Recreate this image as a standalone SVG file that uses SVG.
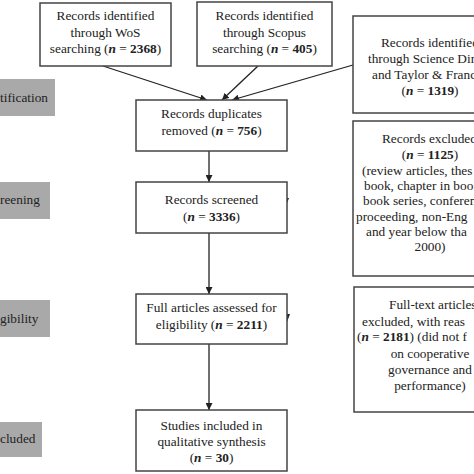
<svg xmlns="http://www.w3.org/2000/svg" width="474" height="474" viewBox="0 0 474 474">
<style>
.box{fill:#fff;stroke:#444;stroke-width:1.5}
.lab{fill:#a9a9a9}
text{font-family:"Liberation Serif","Times New Roman",serif;font-size:13.3px;fill:#222}
.m{text-anchor:middle}
.n{font-weight:bold;font-style:italic}
.b{font-weight:bold}
.con{stroke:#222;stroke-width:1.3;fill:none}
</style>
<defs>
<marker id="ah" viewBox="0 0 10 10" refX="10" refY="5" markerWidth="7" markerHeight="7" markerUnits="userSpaceOnUse" orient="auto">
<path d="M0,0 L10,5 L0,10 Z" fill="#222"/>
</marker>
</defs>
<g id="stage-labels">
<g id="lab-identification"><rect class="lab" x="0" y="79" width="55" height="37"/><text x="0" y="102">tification</text></g>
<g id="lab-screening"><rect class="lab" x="0" y="182" width="50" height="37"/><text x="0" y="204">reening</text></g>
<g id="lab-eligibility"><rect class="lab" x="0" y="300" width="50" height="37"/><text x="0" y="323">gibility</text></g>
<g id="lab-included"><rect class="lab" x="0" y="422" width="42" height="35"/><text x="0" y="443">cluded</text></g>
</g>
<g id="connectors">
<line class="con" x1="103" y1="66" x2="207" y2="100" marker-end="url(#ah)"/>
<line class="con" x1="258" y1="66" x2="222" y2="100" marker-end="url(#ah)"/>
<line class="con" x1="353" y1="65" x2="232" y2="100" marker-end="url(#ah)"/>
<line class="con" x1="209" y1="151" x2="209" y2="182" marker-end="url(#ah)"/>
<line class="con" x1="209" y1="233" x2="209" y2="294" marker-end="url(#ah)"/>
<line class="con" x1="209" y1="344" x2="209" y2="410" marker-end="url(#ah)"/>
<polygon points="283,198 289,198 286,206" fill="#222"/>
<polygon points="284,314 290,314 287,322" fill="#222"/>
</g>
<g id="node-wos"><rect class="box" x="40" y="3" width="131" height="63"/>
<text class="m" x="105.5" y="20">Records identified</text>
<text class="m" x="105.5" y="37">through WoS</text>
<text class="m" x="105.5" y="53">searching (<tspan class="n">n</tspan> = <tspan class="b">2368</tspan>)</text></g>
<g id="node-scopus"><rect class="box" x="197" y="2" width="135" height="64"/>
<text class="m" x="264.5" y="20">Records identified</text>
<text class="m" x="264.5" y="37">through Scopus</text>
<text class="m" x="264.5" y="53">searching (<tspan class="n">n</tspan> = <tspan class="b">405</tspan>)</text></g>
<g id="node-sciencedirect"><rect class="box" x="353" y="16" width="160" height="97"/>
<text x="381" y="47">Records identified</text>
<text x="368" y="63">through Science Dir</text>
<text x="372" y="79">and Taylor &amp; Franc</text>
<text class="m" x="430" y="95">(<tspan class="n">n</tspan> = <tspan class="b">1319</tspan>)</text></g>
<g id="node-duplicates"><rect class="box" x="136" y="100" width="151" height="51"/>
<text class="m" x="211.5" y="118">Records duplicates</text>
<text class="m" x="211.5" y="135">removed (<tspan class="n">n</tspan> = <tspan class="b">756</tspan>)</text></g>
<g id="node-screened"><rect class="box" x="136" y="182" width="151" height="51"/>
<text class="m" x="211.5" y="204">Records screened</text>
<text class="m" x="211.5" y="221">(<tspan class="n">n</tspan> = <tspan class="b">3336</tspan>)</text></g>
<g id="node-fullarticles"><rect class="box" x="136" y="294" width="151" height="50"/>
<text class="m" x="211.5" y="312">Full articles assessed for</text>
<text class="m" x="211.5" y="329">eligibility (<tspan class="n">n</tspan> = <tspan class="b">2211</tspan>)</text></g>
<g id="node-included"><rect class="box" x="136" y="410" width="151" height="61"/>
<text class="m" x="211.5" y="430">Studies included in</text>
<text class="m" x="211.5" y="446">qualitative synthesis</text>
<text class="m" x="211.5" y="462">(<tspan class="n">n</tspan> = <tspan class="b">30</tspan>)</text></g>
<g id="node-excluded"><rect class="box" x="353" y="121" width="160" height="155"/>
<text x="382" y="143">Records excluded</text>
<text class="m" x="430" y="159">(<tspan class="n">n</tspan> = <tspan class="b">1125</tspan>)</text>
<text x="362" y="175">(review articles, thes</text>
<text x="364" y="190">book, chapter in boo</text>
<text x="363" y="205">book series, conferen</text>
<text x="356" y="221">proceeding, non-Eng</text>
<text x="366" y="236">and year below tha</text>
<text class="m" x="430" y="251">2000)</text></g>
<g id="node-fulltext-excluded"><rect class="box" x="354" y="287" width="160" height="125"/>
<text x="389" y="309">Full-text articles</text>
<text x="362" y="326">excluded, with reas</text>
<text x="357" y="341">(<tspan class="n">n</tspan> = <tspan class="b">2181</tspan>) (did not f</text>
<text class="m" x="430" y="358">on cooperative</text>
<text class="m" x="430" y="374">governance and</text>
<text class="m" x="430" y="390">performance)</text></g>
</svg>
